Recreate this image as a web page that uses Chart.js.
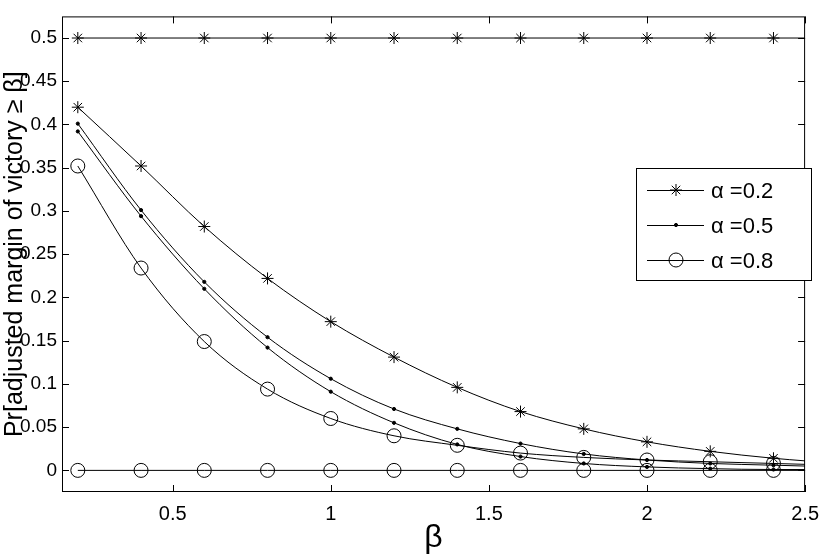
<!DOCTYPE html>
<html><head><meta charset="utf-8">
<script src="https://cdn.jsdelivr.net/npm/chart.js@4"></script>
<style>html,body{margin:0;padding:0;background:#fff}#w{width:829px;height:557px}</style>
</head><body><div id="w"><canvas id="c"></canvas></div>
<script>
const betas = [0.2,0.4,0.6,0.8,1.0,1.2,1.4,1.6,1.8,2.0,2.2,2.4,2.5];
const a02_top = [0.5,0.5,0.5,0.5,0.5,0.5,0.5,0.5,0.5,0.5,0.5,0.5,0.5];
const a02 = [0.42,0.352,0.282,0.222,0.172,0.131,0.096,0.068,0.048,0.033,0.022,0.014,0.011];
const a05_up = [0.401,0.301,0.218,0.154,0.106,0.071,0.048,0.031,0.019,0.012,0.008,0.006,0.005];
const a05_lo = [0.392,0.294,0.210,0.142,0.091,0.055,0.030,0.016,0.008,0.004,0.002,0.001,0.001];
const a08 = [0.352,0.234,0.149,0.094,0.060,0.040,0.029,0.020,0.015,0.012,0.010,0.008,0.007];
const a08_zero = [0,0,0,0,0,0,0,0,0,0,0,0,0];
const xTicks = [0.5,1,1.5,2,2.5];
const yTicks = [0,0.05,0.1,0.15,0.2,0.25,0.3,0.35,0.4,0.45,0.5];
const legendLabels = ['\u03b1 =0.2','\u03b1 =0.5','\u03b1 =0.8'];

const styles = {
  star:{pointStyle:'star',r:6,fill:'transparent'},
  dot:{pointStyle:'circle',r:1.6,fill:'#000'},
  circ:{pointStyle:'circle',r:7,fill:'transparent'}
};
function ds(vals, st){
  const s = styles[st];
  return {data: betas.map((b,i)=>({x:b,y:vals[i]})), borderColor:'#000', borderWidth:1,
    pointStyle:s.pointStyle, pointRadius: betas.map(b=>b>2.45?0:s.r),
    pointBackgroundColor:s.fill, pointBorderColor:'#000', pointBorderWidth:1,
    cubicInterpolationMode:'monotone', fill:false};
}
const font = "'Liberation Sans', Arial, sans-serif";
const decor = {
  id:'decor',
  afterDraw(chart){
    const {ctx, chartArea:a, scales:{x,y}} = chart;
    ctx.save();
    ctx.strokeStyle='#000'; ctx.lineWidth=1;
    ctx.strokeRect(a.left+0.5,a.top+0.5,a.right-a.left-1,a.bottom-a.top-1);
    const L=7;
    xTicks.forEach(v=>{const p=Math.round(x.getPixelForValue(v))+0.5;
      ctx.beginPath();ctx.moveTo(p,a.bottom);ctx.lineTo(p,a.bottom-L);ctx.moveTo(p,a.top);ctx.lineTo(p,a.top+L);ctx.stroke();});
    yTicks.forEach(v=>{const p=Math.round(y.getPixelForValue(v))+0.5;
      ctx.beginPath();ctx.moveTo(a.left,p);ctx.lineTo(a.left+L,p);ctx.moveTo(a.right,p);ctx.lineTo(a.right-L,p);ctx.stroke();});
    const bx=636,by=168,bw=175,bh=112;
    ctx.fillStyle='#fff';ctx.fillRect(bx,by,bw,bh);
    ctx.strokeRect(bx+0.5,by+0.5,bw,bh);
    const sts=['star','dot','circ'];
    ctx.font='22px '+font; ctx.textBaseline='middle';
    sts.forEach((st,i)=>{
      const yy=by+22+i*35;
      ctx.beginPath();ctx.moveTo(647,yy+0.5);ctx.lineTo(704,yy+0.5);ctx.stroke();
      const s=styles[st];
      ctx.fillStyle=s.fill;
      Chart.helpers.drawPoint(ctx,{pointStyle:s.pointStyle,radius:s.r,borderWidth:1},676,yy);
      ctx.fillStyle='#000';
      ctx.fillText(legendLabels[i],711,yy+2);
    });
    ctx.restore();
  }
};
new Chart(document.getElementById('c'),{
  type:'line',
  data:{datasets:[ds(a02_top,'star'),ds(a02,'star'),ds(a05_up,'dot'),ds(a05_lo,'dot'),ds(a08,'circ'),ds(a08_zero,'circ')]},
  options:{responsive:true,maintainAspectRatio:false,animation:false,
    layout:{padding:{top:8,right:21,left:0,bottom:0}},
    plugins:{legend:{display:false},tooltip:{enabled:false}},
    scales:{
      x:{type:'linear',min:0.15,max:2.5,
        afterBuildTicks(s){s.ticks=xTicks.map(v=>({value:v}));},
        afterFit(s){s.height=65;},
        grid:{display:false,drawTicks:false},border:{display:false},
        ticks:{color:'#000',font:{family:font,size:20},padding:10,maxRotation:0,callback:v=>String(v)},
        title:{display:true,text:'\u03b2',color:'#000',font:{family:font,size:32},padding:{top:0,bottom:0}}},
      y:{min:-0.025,max:0.525,
        afterBuildTicks(s){s.ticks=yTicks.map(v=>({value:v}));},
        afterFit(s){s.width=62;},
        grid:{display:false,drawTicks:false},border:{display:false},
        ticks:{color:'#000',font:{family:font,size:19},padding:5,callback:v=>String(+v.toFixed(2))},
        title:{display:true,text:'Pr[adjusted margin of victory \u2265 \u03b2]',color:'#000',font:{family:font,size:25},padding:{top:0,bottom:-2}}}
    }},
  plugins:[decor]
});
</script></body></html>
